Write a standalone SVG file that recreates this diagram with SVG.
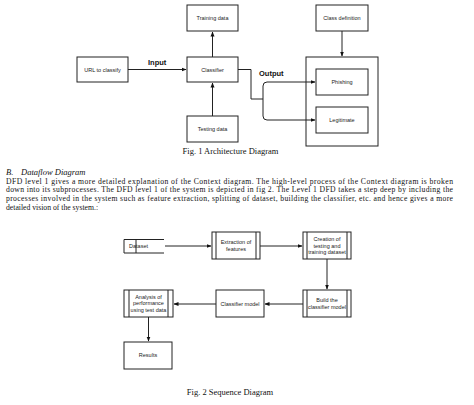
<svg xmlns="http://www.w3.org/2000/svg" width="474" height="405" viewBox="0 0 474 405">
<defs>
<marker id="ah" viewBox="0 0 10 10" refX="9" refY="5" markerWidth="5" markerHeight="5" orient="auto" markerUnits="userSpaceOnUse">
<path d="M0,1 L10,5 L0,9 z" fill="#111"/>
</marker>
<style>
.box{fill:#fff;stroke:#222;stroke-width:1}
.ln{fill:none;stroke:#222;stroke-width:1}
.conn{fill:none;stroke:#222;stroke-width:1}
.lbl{font-family:"Liberation Sans",Arial,sans-serif;font-size:5.5px;fill:#222;text-anchor:middle}
.big{font-family:"Liberation Sans",Arial,sans-serif;font-size:7.5px;font-weight:bold;fill:#111}
.serif{font-family:"Liberation Serif","Times New Roman",serif;font-size:8.5px;fill:#111}
.para{font-family:"Liberation Serif","Times New Roman",serif;font-size:7.7px;fill:#111}
</style>
</defs>
<rect width="474" height="405" fill="#fff"/>

<!-- Figure 1 -->
<g id="training"><rect class="box" x="187" y="5" width="51" height="26"/><text class="lbl" x="212.5" y="20">Training data</text></g>
<g id="url"><rect class="box" x="77" y="57" width="51" height="25"/><text class="lbl" x="102.5" y="71.5">URL to classify</text></g>
<g id="classifier"><rect class="box" x="187" y="57" width="51" height="25"/><text class="lbl" x="212.5" y="71.5">Classifier</text></g>
<g id="testing"><rect class="box" x="187" y="116" width="51" height="26"/><text class="lbl" x="212.5" y="131">Testing data</text></g>
<g id="classdef"><rect class="box" x="316" y="5" width="52" height="26"/><text class="lbl" x="342" y="20">Class definition</text></g>
<g id="container"><rect class="box" x="306" y="57" width="72" height="89"/></g>
<g id="phishing"><rect class="box" x="316" y="69" width="52" height="26"/><text class="lbl" x="342" y="84">Phishing</text></g>
<g id="legitimate"><rect class="box" x="316" y="107" width="52" height="26"/><text class="lbl" x="342" y="122">Legitimate</text></g>

<g id="connectors1">
<path class="conn" d="M128,69.5 H186" marker-end="url(#ah)"/>
<path class="conn" d="M212.5,57 V32" marker-end="url(#ah)"/>
<path class="conn" d="M212.5,116 V83" marker-end="url(#ah)"/>
<path class="conn" d="M342,31 V56" marker-end="url(#ah)"/>
<path class="conn" d="M238,69.5 H251 V99 H263"/>
<path class="conn" d="M263,99 V86 Q263,82 267,82 H315" marker-end="url(#ah)"/>
<path class="conn" d="M263,99 V116 Q263,120 267,120 H315" marker-end="url(#ah)"/>
</g>
<text class="big" x="148" y="65">Input</text>
<text class="big" x="259" y="76">Output</text>
<text class="serif" x="230.5" y="154" text-anchor="middle">Fig. 1 Architecture Diagram</text>

<!-- Section text -->
<text class="serif" x="6" y="174.5" font-style="italic">B.<tspan x="21">Dataflow Diagram</tspan></text>
<text class="para" x="6" y="183.5" textLength="447" lengthAdjust="spacing">DFD level 1 gives a more detailed explanation of the Context diagram. The high-level process of the Context diagram is broken</text>
<text class="para" x="6" y="192.2" textLength="447" lengthAdjust="spacing">down into its subprocesses. The DFD level 1 of the system is depicted in fig 2. The Level 1 DFD takes a step deep by including the</text>
<text class="para" x="6" y="200.9" textLength="447" lengthAdjust="spacing">processes involved in the system such as feature extraction, splitting of dataset, building the classifier, etc. and hence gives a more</text>
<text class="para" x="6" y="209.6">detailed vision of the system.:</text>

<!-- Figure 2 -->
<g id="dataset"><path class="ln" d="M164,239.5 H124 V253 H164 M136,239.5 V253"/><text class="lbl" x="138.5" y="248" text-anchor="start">Dataset</text></g>
<g id="extraction"><rect class="box" x="212" y="232" width="48" height="27"/><path class="ln" d="M216,232 V259 M256,232 V259"/><text class="lbl" x="236" y="244">Extraction of</text><text class="lbl" x="236" y="250.5">features</text></g>
<g id="creation"><rect class="box" x="303" y="232" width="48" height="27"/><path class="ln" d="M307,232 V259 M347,232 V259"/><text class="lbl" x="327" y="241">Creation of</text><text class="lbl" x="327" y="247.5">testing and</text><text class="lbl" x="327" y="254">training dataset</text></g>
<g id="build"><rect class="box" x="303" y="290" width="48" height="27"/><path class="ln" d="M307,290 V317 M347,290 V317"/><text class="lbl" x="327" y="302">Build the</text><text class="lbl" x="327" y="308.5">classifier model</text></g>
<g id="model"><rect class="box" x="216" y="290" width="48" height="27"/><text class="lbl" x="240" y="305.5">Classifier model</text></g>
<g id="analysis"><rect class="box" x="124" y="290" width="49" height="27"/><path class="ln" d="M129,290 V317 M168,290 V317"/><text class="lbl" x="148.5" y="298.5">Analysis of</text><text class="lbl" x="148.5" y="305">performance</text><text class="lbl" x="148.5" y="311.5">using test data</text></g>
<g id="results"><rect class="box" x="124" y="342" width="48" height="27"/><text class="lbl" x="148" y="357">Results</text></g>

<g id="connectors2">
<path class="conn" d="M165,246 H211" marker-end="url(#ah)"/>
<path class="conn" d="M260,246 H302" marker-end="url(#ah)"/>
<path class="conn" d="M327,259 V289" marker-end="url(#ah)"/>
<path class="conn" d="M303,304 H265" marker-end="url(#ah)"/>
<path class="conn" d="M216,304 H174" marker-end="url(#ah)"/>
<path class="conn" d="M148.5,317 V341" marker-end="url(#ah)"/>
</g>
<text class="serif" x="230" y="395" text-anchor="middle">Fig. 2 Sequence Diagram</text>
</svg>
